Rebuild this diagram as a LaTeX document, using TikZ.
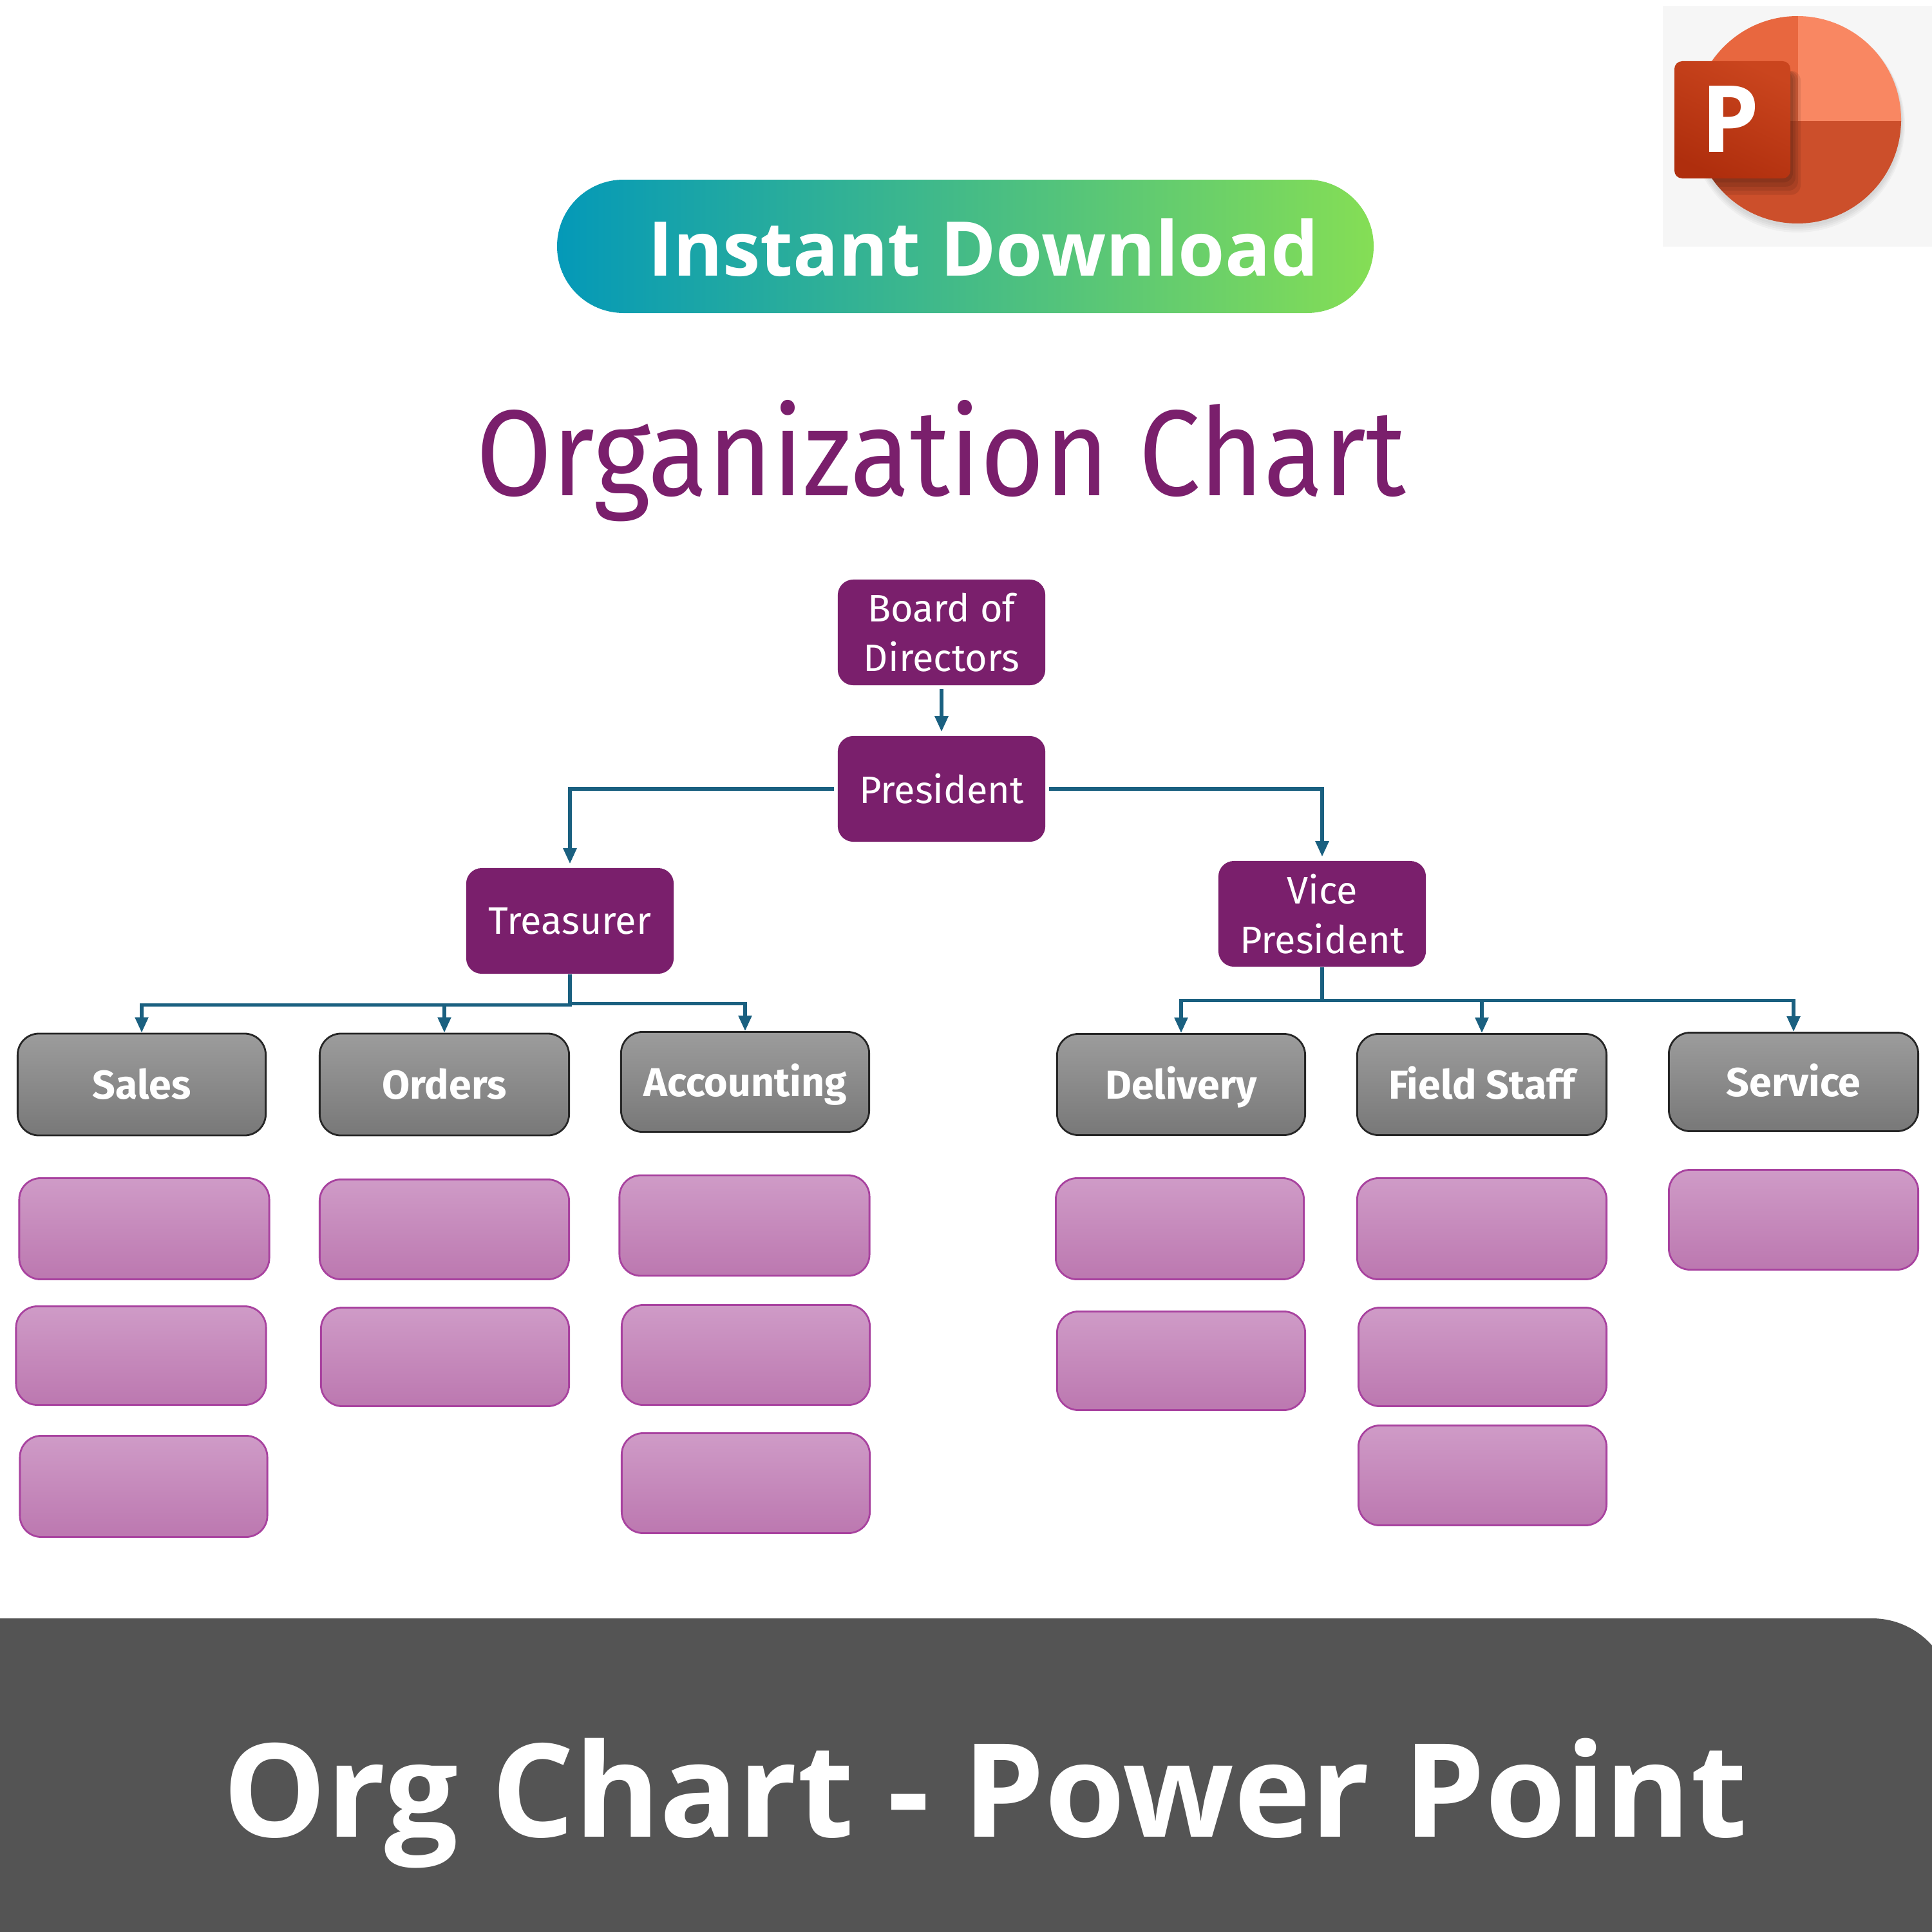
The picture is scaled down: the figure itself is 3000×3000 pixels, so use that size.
\documentclass[tikz,border=0pt]{standalone}
\usepackage{fontspec}
\setmainfont{Open Sans}
\newfontfamily\plex{Fira Sans}
\newfontfamily\plextitle[FakeStretch=0.9]{Fira Sans}
\usetikzlibrary{arrows.meta,calc}
\definecolor{plum}{HTML}{7A1F6C}
\definecolor{link}{HTML}{1A6080}
\definecolor{band}{HTML}{545454}
\definecolor{gray1}{HTML}{9C9C9C}
\definecolor{gray2}{HTML}{787878}
\definecolor{slot1}{HTML}{CF9BC7}
\definecolor{slot2}{HTML}{BC78B0}
\definecolor{slotedge}{HTML}{A8429F}
\definecolor{pilla}{HTML}{0499B8}
\definecolor{pillb}{HTML}{85DE55}
\definecolor{quadtl}{HTML}{E8673F}
\definecolor{quadtr}{HTML}{F98762}
\definecolor{quadb}{HTML}{CC4F2B}
\definecolor{tilea}{HTML}{CA451E}
\definecolor{tileb}{HTML}{AF2E0D}
\tikzset{
  boss/.style={fill=plum,rounded corners=0.24cm,text=white,inner sep=0pt,align=center,minimum width=3.22cm,minimum height=1.64cm,font=\plex\fontsize{16.9}{21.8}\selectfont},
  dept/.style={draw=black!85,line width=0.8pt,top color=gray1,bottom color=gray2,rounded corners=0.33cm,text=white,inner sep=0pt,minimum width=3.85cm,minimum height=1.55cm,text height=0.5cm,text depth=0.06cm,font=\plex\bfseries\fontsize{17.8}{20}\selectfont},
  slotbox/.style={draw=slotedge,line width=0.8pt,top color=slot1,bottom color=slot2,rounded corners=0.33cm,inner sep=0pt,minimum width=3.85cm,minimum height=1.55cm},
  conn/.style={draw=link,line width=1.5pt},
  arr/.style={conn,-{Triangle[length=0.24cm,width=0.2cm]}},
  gapped/.style={shorten >=0.06cm,shorten <=0.05cm},
}
\begin{document}
\begin{tikzpicture}[x=0.01cm,y=-0.01cm]
\useasboundingbox (0,0) rectangle (3000,3000);
\fill[white] (0,0) rectangle (3000,3000);
% band
\begin{scope}
\clip (0,0) rectangle (3000,3000);
\fill[band,rounded corners=1.24cm] (-300,2513) rectangle (3031,3300);
\end{scope}
\node[text=white,inner sep=0pt,anchor=base,font=\bfseries\fontsize{57.4}{70}\selectfont] (footer) at (1530,2852) {Org Chart - Power Point};
% pill
\shade[left color=pilla,right color=pillb,rounded corners=1.03cm] (865,279) rectangle (2133,486);
\node[text=white,anchor=base,inner sep=0pt,font=\bfseries\fontsize{33.3}{40}\selectfont] (dl) at (1527,428) {Instant Download};
% title
\node[text=plum,anchor=base,inner sep=0pt,font=\plextitle\fontsize{54}{60}\selectfont] (title) at (1461,769) {Organization Chart};
% icon
\fill[black!3.5] (2582,9) rectangle (3000,383);
\foreach \i in {12,9,6,3} \fill[black,opacity=0.03] (2791,{188+\i/2}) circle[radius={161+\i/2}];
\begin{scope}
\clip (2791,186) circle[radius=161];
\fill[quadtl] (2600,0) rectangle (2792,190);
\fill[quadtr] (2792,0) rectangle (3000,190);
\fill[quadb] (2600,188) rectangle (3000,360);
\foreach \i in {16,12,8,4} \fill[black,opacity=0.09,rounded corners=0.15cm] (2600,110) rectangle ({2780+\i},{277+1.6*\i});
\end{scope}
\shade[top color=tilea,bottom color=tileb,rounded corners=0.12cm,shading angle=-25] (2600,95) rectangle (2780,277);
\node[text=white,inner sep=0pt,anchor=base,font=\bfseries\fontsize{41}{45}\selectfont] (pptp) at (2687,237) {P};
% chart
\node[boss] (board) at (1462,982) {Board of\\Directors};
\node[boss] (pres) at (1462,1225) {President};
\node[boss] (treas) at (885,1430) {Treasurer};
\node[boss] (vp) at (2053,1419) {Vice\\President};
\node[dept,minimum height=1.58cm] (sales) at (220,1684) {Sales};
\node[dept,minimum width=3.87cm,minimum height=1.58cm] (orders) at (690,1684) {Orders};
\node[dept,minimum height=1.55cm] (acct) at (1157,1680) {Accounting};
\node[dept,minimum height=1.57cm] (deliv) at (1834,1684) {Delivery};
\node[dept,minimum width=3.87cm,minimum height=1.57cm] (field) at (2301,1684) {Field Staff};
\node[dept,minimum width=3.87cm,minimum height=1.53cm] (serv) at (2785,1680) {Service};
% slots
\node[slotbox,minimum width=3.88cm,minimum height=1.57cm] (s1) at (224,1908) {};
\node[slotbox,minimum width=3.88cm,minimum height=1.53cm] (s2) at (219,2105) {};
\node[slotbox,minimum width=3.84cm,minimum height=1.57cm] (s3) at (223,2308) {};
\node[slotbox,minimum width=3.87cm,minimum height=1.55cm] (o1) at (690,1909) {};
\node[slotbox,minimum height=1.53cm] (o2) at (691,2107) {};
\node[slotbox,minimum width=3.88cm,minimum height=1.56cm] (a1) at (1156,1903) {};
\node[slotbox,minimum height=1.55cm] (a2) at (1158,2104) {};
\node[slotbox,minimum height=1.55cm] (a3) at (1158,2303) {};
\node[slotbox,minimum height=1.57cm] (d1) at (1832,1908) {};
\node[slotbox,minimum height=1.53cm] (d2) at (1834,2113) {};
\node[slotbox,minimum width=3.87cm,minimum height=1.57cm] (f1) at (2301,1908) {};
\node[slotbox,minimum height=1.53cm] (f2) at (2302,2107) {};
\node[slotbox,minimum height=1.55cm] (f3) at (2302,2291) {};
\node[slotbox,minimum width=3.87cm,minimum height=1.55cm] (v1) at (2785,1894) {};
% connectors
\draw[arr,gapped] (board.south) -- (pres.north);
\draw[arr,gapped] (pres.west) -| (treas.north);
\draw[arr,gapped] (pres.east) -| (vp.north);
\draw[arr] (treas.south) -- ++(0,48) -| (sales.north);
\draw[arr] (treas.south) -- ++(0,48) -| (orders.north);
\draw[arr] (treas.south) -- ++(0,46) -| (acct.north);
\draw[arr] (vp.south) -- ++(0,52) -| (deliv.north);
\draw[arr] (vp.south) -- ++(0,52) -| (field.north);
\draw[arr] (vp.south) -- ++(0,52) -| (serv.north);
\end{tikzpicture}
\end{document}
